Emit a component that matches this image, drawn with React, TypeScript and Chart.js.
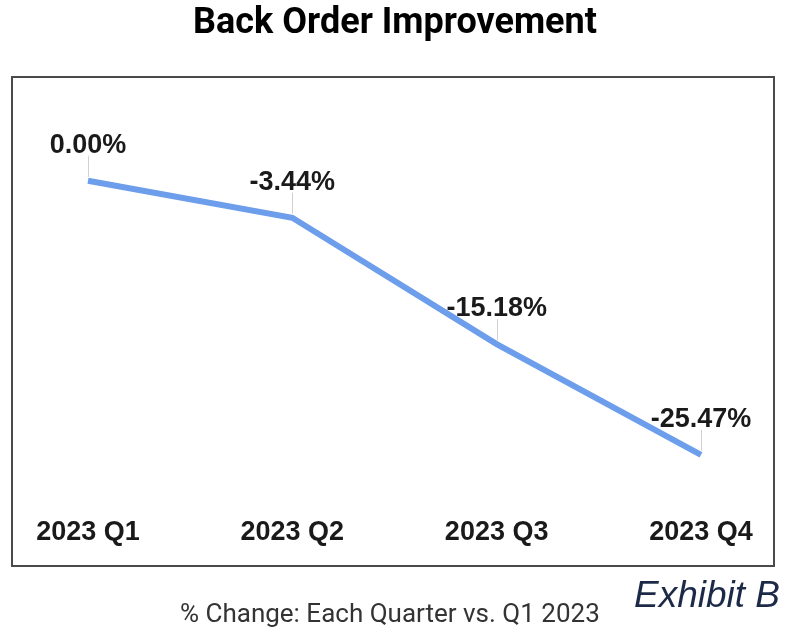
import React, { useEffect, useRef } from "react";
import { Chart, registerables } from "chart.js";

Chart.register(...registerables);

const categories = ["2023 Q1", "2023 Q2", "2023 Q3", "2023 Q4"];
const changeValues = [0.0, -3.44, -15.18, -25.47];
const valueLabels = ["0.00%", "-3.44%", "-15.18%", "-25.47%"];
const chartTitle = "Back Order Improvement";
const chartSubtitle = "% Change: Each Quarter vs. Q1 2023";
const exhibitText = "Exhibit B";

const W = 790;
const H = 632;

const decorPlugin = {
  id: "decor",
  afterDraw(chart: any) {
    const ctx = chart.ctx as CanvasRenderingContext2D;
    ctx.save();
    // frame
    ctx.strokeStyle = "#4a4a4a";
    ctx.lineWidth = 2;
    ctx.strokeRect(12, 77, 762, 489);

    // title
    ctx.fillStyle = "#000000";
    ctx.font = "bold 36px Roboto";
    ctx.textAlign = "center";
    ctx.textBaseline = "alphabetic";
    ctx.fillText(chartTitle, 395, 33);

    // subtitle
    ctx.fillStyle = "#333333";
    ctx.font = "26px Roboto";
    ctx.textAlign = "left";
    ctx.fillText(chartSubtitle, 180, 622);

    // exhibit
    ctx.fillStyle = "#1c2a48";
    ctx.font = "italic 37px 'Liberation Sans'";
    ctx.textAlign = "left";
    ctx.fillText(exhibitText, 634, 607);

    // data labels + leaders
    const meta = chart.getDatasetMeta(0);
    meta.data.forEach((pt: any, i: number) => {
      const x = pt.x;
      const y = pt.y;
      ctx.strokeStyle = "#d0d0d0";
      ctx.lineWidth = 1;
      ctx.beginPath();
      ctx.moveTo(Math.round(x) + 0.5, y - 25);
      ctx.lineTo(Math.round(x) + 0.5, y - 4);
      ctx.stroke();
      ctx.fillStyle = "#1a1a1a";
      ctx.font = "bold 27px 'Liberation Sans'";
      ctx.textAlign = "center";
      ctx.textBaseline = "alphabetic";
      ctx.fillText(valueLabels[i], x, y - 28);
    });
    ctx.restore();
  },
};

export default function App() {
  const ref = useRef<HTMLCanvasElement | null>(null);
  useEffect(() => {
    if (!ref.current) return;
    const chart = new Chart(ref.current, {
      type: "line",
      data: {
        labels: categories,
        datasets: [
          {
            data: changeValues,
            borderColor: "#6d9eeb",
            backgroundColor: "#6d9eeb",
            borderWidth: 6,
            pointRadius: 0,
            pointHoverRadius: 0,
            tension: 0,
            borderCapStyle: "butt",
            clip: false as any,
          },
        ],
      },
      options: {
        responsive: false,
        animation: false,
        devicePixelRatio: 1,
        layout: { padding: { left: 88, right: 89, top: 127, bottom: 70 } },
        plugins: {
          legend: { display: false },
          title: { display: false },
          tooltip: { enabled: false },
        },
        scales: {
          x: {
            type: "category",
            offset: false,
            grid: { display: false, drawTicks: false },
            border: { display: false },
            ticks: {
              padding: 13,
              color: "#1a1a1a",
              font: { family: "'Liberation Sans'", size: 27, weight: "bold" },
              maxRotation: 0,
              autoSkip: false,
            },
          },
          y: {
            display: false,
            min: -30,
            max: 5,
          },
        },
      },
      plugins: [decorPlugin],
    });
    return () => chart.destroy();
  }, []);
  return (
    <div style={{ position: "absolute", left: 0, top: 0, width: W, height: H, background: "#fff" }}>
      <canvas ref={ref} width={W} height={H} style={{ display: "block" }} />
    </div>
  );
}
